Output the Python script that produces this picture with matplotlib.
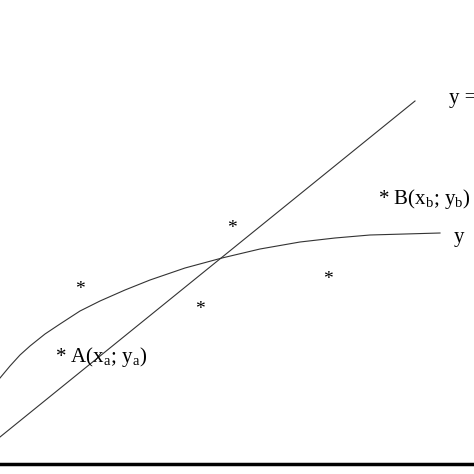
import matplotlib
matplotlib.use("Agg")
import matplotlib.pyplot as plt

plt.rcParams['mathtext.fontset'] = 'custom'
plt.rcParams['mathtext.rm'] = 'Liberation Serif'

line_x = [0, 415]
line_y = [437, 101]
curve_x = [0, 10, 20, 30, 45, 60, 80, 100, 125, 150, 185, 222, 260, 300, 335, 370, 405, 440]
curve_y = [378, 366, 355, 346, 334, 324, 311, 301, 290, 280, 268, 258, 249, 242, 238, 235, 234, 233]
star_x = [232, 80, 200, 328]
star_y = [228, 290, 310, 280]

fig = plt.figure(figsize=(4.74, 4.74), dpi=100)
ax = fig.add_axes([0, 0, 1, 1])
ax.set_xlim(0, 474); ax.set_ylim(474, 0)
ax.axis('off')
ax.plot(line_x, line_y, color='#333333', lw=0.8)
ax.plot(curve_x, curve_y, color='#333333', lw=0.8)
ax.plot([0, 474], [464, 464], color='black', lw=2.5)
fs = dict(family='Liberation Serif', color='black')
for x, y in zip(star_x, star_y):
    ax.text(x, y, '*', fontsize=14, ha='center', va='center', **fs)
ax.text(55, 357, r'* A(x$_{\rm a}$; y$_{\rm a}$)', fontsize=15, va='center', **fs)
ax.text(378, 199, r'* B(x$_{\rm b}$; y$_{\rm b}$)', fontsize=15, va='center', **fs)
ax.text(449, 98, 'y = ', fontsize=15, va='center', **fs)
ax.text(454, 237, 'y', fontsize=15, va='center', **fs)
fig.savefig('out.png', dpi=100)
